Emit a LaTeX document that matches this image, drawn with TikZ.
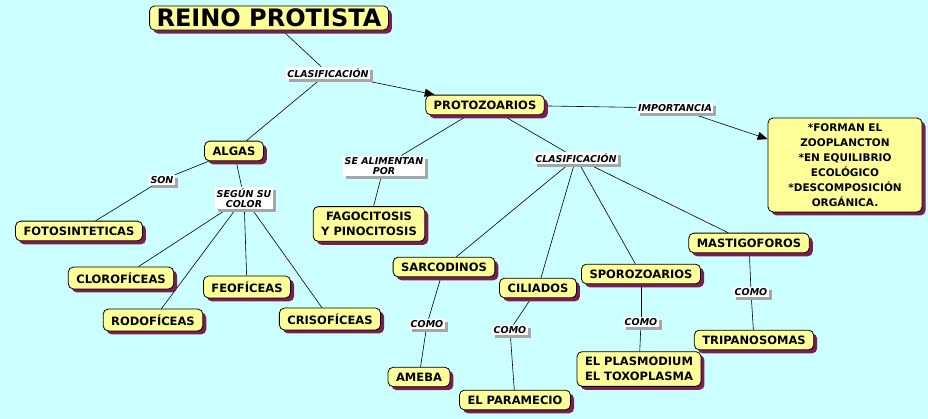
\documentclass[tikz,border=0pt]{standalone}
\usepackage{fontspec}
\setmainfont{DejaVu Sans}
\usetikzlibrary{shadows,arrows.meta}
\pgfdeclarelayer{bg}\pgfsetlayers{bg,main}
\definecolor{bgc}{HTML}{CCFFFF}
\definecolor{box}{HTML}{FFFF99}
\definecolor{shd}{HTML}{7A2050}
\tikzset{
 cbox/.style={draw=black,fill=box,rounded corners=5pt,line width=0.8pt,align=center,
   font=\bfseries\fontsize{11.5}{13}\selectfont,inner xsep=8pt,inner ysep=5.5pt,
   drop shadow={shadow xshift=3.5pt,shadow yshift=-3.5pt,fill=shd,opacity=1}},
 lbl/.style={fill=white,align=center,inner sep=1.5pt,
   font=\bfseries\itshape\fontsize{9.5}{10.5}\selectfont,
   drop shadow={shadow xshift=3pt,shadow yshift=-3pt,fill=gray!70,opacity=1}},
 ln/.style={draw=black,line width=0.6pt},
 arr/.style={ln,-{Triangle[length=10pt,width=8pt]}}
}
\begin{document}
\begin{tikzpicture}[x=1pt,y=-1pt]
\useasboundingbox (0,0) rectangle (928,419);
\node[cbox,font=\bfseries\fontsize{24}{26}\selectfont,inner ysep=3pt,inner xsep=7pt] (rp) at (269,18) {REINO PROTISTA};
\node[cbox] (pz) at (485,105) {PROTOZOARIOS};
\node[cbox,font=\bfseries\fontsize{10.5}{15}\selectfont,text width=138pt] (imp) at (845,165) {*FORMAN EL\\{}ZOOPLANCTON\\{}*EN EQUILIBRIO\\{}ECOLÓGICO\\{}*DESCOMPOSICIÓN\\{}ORGÁNICA.};
\node[cbox] (al) at (234,151) {ALGAS};
\node[cbox] (fo) at (79,231) {FOTOSINTETICAS};
\node[cbox] (cl) at (121,278) {CLOROFÍCEAS};
\node[cbox] (fe) at (247,287) {FEOFÍCEAS};
\node[cbox] (ro) at (153,320) {RODOFÍCEAS};
\node[cbox] (cr) at (330,319) {CRISOFÍCEAS};
\node[cbox,font=\bfseries\fontsize{11.5}{15}\selectfont] (fa) at (369,224) {FAGOCITOSIS\\Y PINOCITOSIS};
\node[cbox] (sa) at (444,267) {SARCODINOS};
\node[cbox] (ci) at (538,288) {CILIADOS};
\node[cbox] (sp) at (641,274) {SPOROZOARIOS};
\node[cbox] (ma) at (749,243) {MASTIGOFOROS};
\node[cbox] (tr) at (754,340) {TRIPANOSOMAS};
\node[cbox] (am) at (419,377) {AMEBA};
\node[cbox] (pa) at (515,400) {EL PARAMECIO};
\node[cbox,font=\bfseries\fontsize{11.5}{15}\selectfont] (pl) at (639,369) {EL PLASMODIUM\\EL TOXOPLASMA};
% labels
\node[lbl] (l1) at (328,73) {CLASIFICACIÓN};
\node[lbl] (l2) at (675,108) {IMPORTANCIA};
\node[lbl] (l3) at (384,166) {SE ALIMENTAN\\POR};
\node[lbl] (l4) at (576,158) {CLASIFICACIÓN};
\node[lbl] (l5) at (162,180) {SON};
\node[lbl] (l6) at (244,198) {SEGÚN SU\\COLOR};
\node[lbl] (l7) at (427,324) {COMO};
\node[lbl] (l8) at (510,330) {COMO};
\node[lbl] (l9) at (641,322) {COMO};
\node[lbl] (l10) at (751,292) {COMO};
\begin{pgfonlayer}{bg}
\fill[bgc] (0,0) rectangle (928,419);
\draw[ln] (rp) -- (l1); \draw[arr] (l1) -- (pz); \draw[ln] (l1) -- (al);
\draw[ln] (pz) -- (l2); \draw[arr] (l2) -- (imp);
\draw[ln] (pz) -- (l3); \draw[ln] (l3) -- (fa);
\draw[ln] (pz) -- (l4);
\foreach \t in {sa,ci,sp,ma} \draw[ln] (l4) -- (\t);
\draw[ln] (al) -- (l5); \draw[ln] (l5) -- (fo);
\draw[ln] (al) -- (l6);
\foreach \t in {cl,fe,ro,cr} \draw[ln] (l6) -- (\t);
\draw[ln] (sa) -- (l7); \draw[ln] (l7) -- (am);
\draw[ln] (ci) -- (l8); \draw[ln] (l8) -- (pa);
\draw[ln] (sp) -- (l9); \draw[ln] (l9) -- (pl);
\draw[ln] (ma) -- (l10); \draw[ln] (l10) -- (tr);
\end{pgfonlayer}
\end{tikzpicture}
\end{document}
